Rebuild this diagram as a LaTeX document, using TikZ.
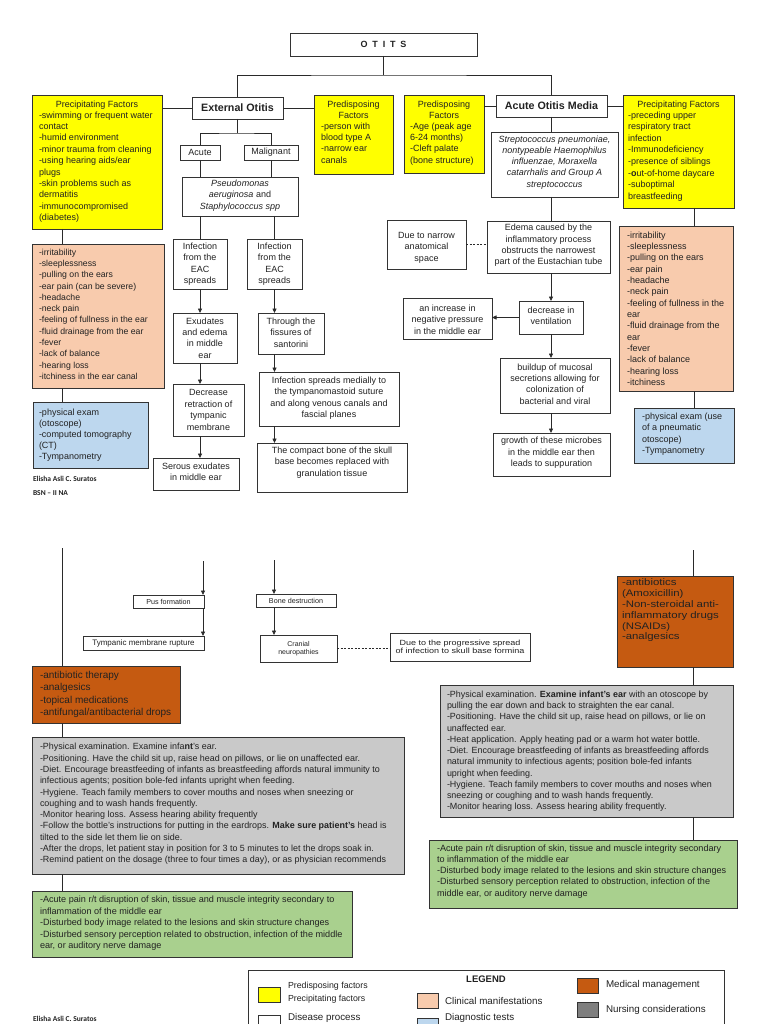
\documentclass[tikz,border=0pt]{standalone}
\usepackage{fontspec}
\setmainfont{Liberation Sans}
\newfontfamily\widefont[FakeStretch=1.2]{Liberation Sans}
\newfontfamily\namefont{Carlito}
\usetikzlibrary{arrows.meta}
\definecolor{yel}{HTML}{FFFF00}
\definecolor{sal}{HTML}{F8CBAD}
\definecolor{blu}{HTML}{BDD7EE}
\definecolor{org}{HTML}{C55A11}
\definecolor{gry}{HTML}{C9C9C9}
\definecolor{grn}{HTML}{A9D08E}
\definecolor{gdark}{HTML}{7F7F7F}
\definecolor{edge}{HTML}{333333}
\definecolor{lnc}{HTML}{2A2A2A}
\definecolor{tx}{HTML}{222222}
\newcommand\mkbox[6]{%
  \pgfmathsetmacro\bxw{#4-#2}%
  \pgfmathsetmacro\bxh{#5-#3}%
  \node[#6, anchor=north west, minimum width=\bxw pt, minimum height=\bxh pt] (#1) at (#2,#3) {};%
}
\newcommand\ctxt[4]{\node[txt, align=center, #3] (#1t) at ([shift={(0,#2)}]#1.center) {#4};}
\newcommand\ltxt[5]{\node[txt, align=left, anchor=north west, #4] (#1t) at ([shift={(#2,#3)}]#1.north west) {#5};}
\newcommand\htxt[4]{\node[txt, align=center, anchor=north, #3] (#1h) at ([shift={(0,#2)}]#1.north) {#4};}
\begin{document}
\begin{tikzpicture}[x=1pt,y=-1pt,
  bx/.style={draw=edge, line width=0.8pt, inner sep=0pt, outer sep=0pt, rectangle},
  wb/.style={bx, fill=white}, yb/.style={bx, fill=yel}, sb/.style={bx, fill=sal},
  bb/.style={bx, fill=blu}, ob/.style={bx, fill=org}, gb/.style={bx, fill=gry},
  nb/.style={bx, fill=grn},
  txt/.style={inner sep=0pt, outer sep=0pt, text=tx},
  ln/.style={draw=lnc, line width=0.8pt},
  arr/.style={ln, -{Triangle[length=4.5pt,width=4pt]}},
  dsh/.style={ln, dash pattern=on 2pt off 1.5pt},
  fY/.style={font=\fontsize{9}{11.4}\selectfont},
  fYR/.style={font=\fontsize{9}{11.6}\selectfont},
  fSL/.style={font=\fontsize{8.7}{11.3}\selectfont},
  fSR/.style={font=\fontsize{9}{11.35}\selectfont},
  fBL/.style={font=\fontsize{9}{11}\selectfont},
  fBR/.style={font=\fontsize{9}{11.3}\selectfont},
  fF/.style={font=\fontsize{9}{11.4}\selectfont},
  fI/.style={font=\fontsize{9}{11.1}\selectfont\itshape},
  fH/.style={font=\fontsize{10.7}{12}\selectfont\bfseries},
  fG/.style={font=\fontsize{8.95}{11.27}\selectfont},
  fNL/.style={font=\fontsize{9.1}{11.5}\selectfont},
  fNR/.style={font=\fontsize{9.1}{11.1}\selectfont},
  fOL/.style={font=\fontsize{10}{12.4}\selectfont},
  fOR/.style={font=\widefont\fontsize{9.5}{10.8}\selectfont},
  fS/.style={font=\fontsize{7.2}{7.8}\selectfont},
  fL/.style={font=\fontsize{9.8}{12}\selectfont},
  fN/.style={font=\namefont\bfseries\fontsize{7.5}{14}\selectfont},
]
\useasboundingbox (0,0) rectangle (768,1024);
\fill[white] (0,0) rectangle (768,1024);

% ---------- top ----------
\mkbox{otits}{290}{33}{477}{56}{wb}
\ctxt{otits}{0}{font=\fontsize{9}{11}\selectfont\bfseries}{O\hspace{4.8pt}T\hspace{4.8pt}I\hspace{4.8pt}T\hspace{4.8pt}S}

\mkbox{yl1}{32}{95}{162}{229}{yb}
\htxt{yl1}{5.5}{fY}{Precipitating Factors}
\ltxt{yl1}{7}{16.5}{fY}{-swimming or frequent water\\contact\\-humid environment\\-minor trauma from cleaning\\-using hearing aids/ear\\plugs\\-skin problems such as\\dermatitis\\-immunocompromised\\(diabetes)}

\mkbox{ext}{192}{97}{283}{119}{wb}
\ctxt{ext}{0}{fH}{External Otitis}

\mkbox{yp1}{314}{95}{393}{174}{yb}
\htxt{yp1}{5.5}{fY}{Predisposing\\Factors}
\ltxt{yp1}{7}{27.5}{fY}{-person with\\blood type A\\-narrow ear\\canals}

\mkbox{yp2}{404}{95}{484}{173}{yb}
\htxt{yp2}{5.5}{fY}{Predisposing\\Factors}
\ltxt{yp2}{6}{27.5}{fY}{-Age (peak age\\6-24 months)\\-Cleft palate\\(bone structure)}

\mkbox{aom}{496}{95}{607}{117}{wb}
\ctxt{aom}{0}{fH}{Acute Otitis Media}

\mkbox{yr}{623}{95}{734}{208}{yb}
\htxt{yr}{5.5}{fY}{Precipitating Factors}
\ltxt{yr}{5}{16.5}{fYR}{-preceding upper\\respiratory tract\\infection\\-Immunodeficiency\\-presence of siblings\\-\textbf{o}ut-of-home daycare\\-suboptimal\\breastfeeding}

% ---------- left column ----------
\mkbox{salL}{32}{244}{164}{388}{sb}
\ltxt{salL}{7}{4.8}{fSL}{-irritability\\-sleeplessness\\-pulling on the ears\\-ear pain (can be severe)\\-headache\\-neck pain\\-feeling of fullness in the ear\\-fluid drainage from the ear\\-fever\\-lack of balance\\-hearing loss\\-itchiness in the ear canal}

\mkbox{bluL}{33}{402}{148}{468}{bb}
\ltxt{bluL}{6}{7}{fBL}{-physical exam\\(otoscope)\\-computed tomography\\(CT)\\-Tympanometry}

\node[txt, fN, anchor=west] (nm1) at (33,479) {Elisha Asli C. Suratos};
\node[txt, fN, anchor=west] (nm2) at (33,493) {BSN – II NA};

% ---------- external otitis flow ----------
\mkbox{acute}{180}{145}{220}{160}{wb} \ctxt{acute}{0}{fF}{Acute}
\mkbox{malig}{244}{145}{298}{160}{wb} \ctxt{malig}{0}{fF}{Malignant}
\mkbox{pseudo}{182}{177}{298}{216}{wb}
\ctxt{pseudo}{-1}{fF}{\textit{Pseudomonas}\\\textit{aeruginosa} and\\\textit{Staphylococcus spp}}
\mkbox{inf1}{173}{239}{227}{289}{wb} \ctxt{inf1}{0}{fF}{Infection\\from the\\EAC\\spreads}
\mkbox{inf2}{247}{239}{302}{289}{wb} \ctxt{inf2}{0}{fF}{Infection\\from the\\EAC\\spreads}
\mkbox{exu}{173}{313}{237}{363}{wb} \ctxt{exu}{0}{fF}{Exudates\\and edema\\in middle\\ear}
\mkbox{dec}{173}{384}{244}{436}{wb} \ctxt{dec}{0}{fF}{Decrease\\retraction of\\tympanic\\membrane}
\mkbox{ser}{153}{458}{239}{490}{wb} \ctxt{ser}{-2}{fF}{Serous exudates\\in middle ear}
\mkbox{thr}{258}{313}{324}{354}{wb} \ctxt{thr}{-1}{fF}{Through the\\fissures of\\santorini}
\mkbox{isp}{259}{372}{399}{426}{wb} \ctxt{isp}{-1}{fF}{Infection spreads medially to\\the tympanomastoid suture\\and along venous canals and\\fascial planes}
\mkbox{cmp}{257}{443}{407}{492}{wb} \ctxt{cmp}{-5}{fF}{The compact bone of the skull\\base becomes replaced with\\granulation tissue}

% ---------- acute otitis media flow ----------
\mkbox{strep}{491}{132}{618}{197}{wb}
\ctxt{strep}{-2}{fI}{Streptococcus pneumoniae,\\nontypeable Haemophilus\\influenzae, Moraxella\\catarrhalis and Group A\\streptococcus}
\mkbox{edema}{487}{221}{610}{273}{wb}
\ctxt{edema}{-1.5}{fF}{Edema caused by the\\inflammatory process\\obstructs the narrowest\\part of the Eustachian tube}
\mkbox{dueN}{387}{220}{466}{269}{wb} \ctxt{dueN}{3}{fF}{Due to narrow\\anatomical\\space}
\mkbox{decv}{519}{301}{583}{334}{wb} \ctxt{decv}{-2}{fF}{decrease in\\ventilation}
\mkbox{incr}{403}{298}{492}{339}{wb} \ctxt{incr}{1}{fF}{an increase in\\negative pressure\\in the middle ear}
\mkbox{bup}{500}{358}{610}{413}{wb} \ctxt{bup}{-1.5}{fF}{buildup of mucosal\\secretions allowing for\\colonization of\\bacterial and viral}
\mkbox{grow}{493}{433}{610}{476}{wb} \ctxt{grow}{-1.7}{fF}{growth of these microbes\\in the middle ear then\\leads to suppuration}

% ---------- right column ----------
\mkbox{salR}{619}{226}{733}{391}{sb}
\ltxt{salR}{8}{5.5}{fSR}{-irritability\\-sleeplessness\\-pulling on the ears\\-ear pain\\-headache\\-neck pain\\-feeling of fullness in the\\ear\\-fluid drainage from the\\ear\\-fever\\-lack of balance\\-hearing loss\\-itchiness}
\mkbox{bluR}{634}{408}{734}{463}{bb}
\ltxt{bluR}{8}{5}{fBR}{-physical exam (use\\of a pneumatic\\otoscope)\\-Tympanometry}

% ---------- lower middle ----------
\mkbox{pus}{133}{595}{204}{608}{wb} \ctxt{pus}{0}{fS}{Pus formation}
\mkbox{bone}{256}{594}{336}{607}{wb} \ctxt{bone}{0}{fS}{Bone destruction}
\mkbox{tymp}{83}{636}{204}{650}{wb} \ctxt{tymp}{0}{font=\fontsize{8}{8}\selectfont}{Tympanic membrane rupture}
\mkbox{cran}{260}{635}{337}{662}{wb} \ctxt{cran}{0}{font=\fontsize{7}{7.8}\selectfont}{Cranial\\neuropathies}
\mkbox{prog}{390}{633}{530}{661}{wb} \ctxt{prog}{0}{font=\widefont\fontsize{7.5}{7.8}\selectfont}{Due to the progressive spread\\of infection to skull base formina}

\mkbox{orgR}{617}{576}{733}{667}{ob}
\ltxt{orgR}{5}{3}{fOR}{-antibiotics\\(Amoxicillin)\\-Non-steroidal anti-\\inflammatory drugs\\(NSAIDs)\\-analgesics}

\mkbox{orgL}{32}{666}{180}{723}{ob}
\ltxt{orgL}{8}{5}{fOL}{-antibiotic therapy\\-analgesics\\-topical medications\\-antifungal/antibacterial drops}

\mkbox{gryL}{32}{737}{404}{874}{gb}
\ltxt{gryL}{8}{6.5}{fG}{-Physical examination. Examine infa\textbf{nt}'s ear.\\-Positioning. Have the child sit up, raise head on pillows, or lie on unaffected ear.\\-Diet. Encourage breastfeeding of infants as breastfeeding affords natural immunity to\\infectious agents; position bole-fed infants upright when feeding.\\-Hygiene. Teach family members to cover mouths and noses when sneezing or\\coughing and to wash hands frequently.\\-Monitor hearing loss. Assess hearing ability frequently\\-Follow the bottle's instructions for putting in the eardrops. \textbf{Make sure patient's} head is\\tilted to the side let them lie on side.\\-After the drops, let patient stay in position for 3 to 5 minutes to let the drops soak in.\\-Remind patient on the dosage (three to four times a day), or as physician recommends}

\mkbox{grnL}{32}{891}{352}{957}{nb}
\ltxt{grnL}{8}{5}{fNL}{-Acute pain r/t disruption of skin, tissue and muscle integrity secondary to\\inflammation of the middle ear\\-Disturbed body image related to the lesions and skin structure changes\\-Disturbed sensory perception related to obstruction, infection of the middle\\ear, or auditory nerve damage}

\mkbox{gryR}{440}{685}{733}{817}{gb}
\ltxt{gryR}{7}{5.8}{fG}{-Physical examination. \textbf{Examine infant's ear} with an otoscope by\\pulling the ear down and back to straighten the ear canal.\\-Positioning. Have the child sit up, raise head on pillows, or lie on\\unaffected ear.\\-Heat application. Apply heating pad or a warm hot water bottle.\\-Diet. Encourage breastfeeding of infants as breastfeeding affords\\natural immunity to infectious agents; position bole-fed infants\\upright when feeding.\\-Hygiene. Teach family members to cover mouths and noses when\\sneezing or coughing and to wash hands frequently.\\-Monitor hearing loss. Assess hearing ability frequently.}

\mkbox{grnR}{429}{840}{737}{908}{nb}
\ltxt{grnR}{8}{5}{fNR}{-Acute pain r/t disruption of skin, tissue and muscle integrity secondary\\to inflammation of the middle ear\\-Disturbed body image related to the lesions and skin structure changes\\-Disturbed sensory perception related to obstruction, infection of the\\middle ear, or auditory nerve damage}

% ---------- legend ----------
\mkbox{leg}{248}{970}{724}{1040}{wb}
\node[txt, font=\fontsize{9.5}{10}\selectfont\bfseries] (legt) at (486,979.5) {LEGEND};
\mkbox{swY}{258}{987}{280}{1002}{yb}
\node[txt, anchor=west, align=left, font=\fontsize{8.8}{12.7}\selectfont] (swYt) at (288,993) {Predisposing factors\\Precipitating factors};
\mkbox{swW}{258}{1015}{280}{1035}{wb}
\node[txt, anchor=west, fL] (swWt) at (288,1017.5) {Disease process};
\mkbox{swS}{417}{993}{438}{1008}{sb}
\node[txt, anchor=west, fL] (swSt) at (445,1001) {Clinical manifestations};
\mkbox{swB}{417}{1018}{438}{1035}{bb}
\node[txt, anchor=west, fL] (swBt) at (445,1018) {Diagnostic tests};
\mkbox{swO}{577}{978}{598}{993}{ob}
\node[txt, anchor=west, fL] (swOt) at (606,985) {Medical management};
\mkbox{swG}{577}{1002}{598}{1017}{bx, fill=gdark}
\node[txt, anchor=west, fL] (swGt) at (606,1009.5) {Nursing considerations};

\node[txt, fN, anchor=base west] (nm3) at (33,1021.5) {Elisha Asli C. Suratos};

% ---------- connectors ----------
\coordinate (j1) at (383.5,75);
\draw[ln] (otits.south) -- (j1);
\draw[ln] (ext.north) |- (j1) -| (aom.north);
\draw[ln] (ext.west) -- (ext.west -| yl1.east);
\draw[ln] (ext.east) -- (ext.east -| yp1.west);
\draw[ln] (aom.west) -- (aom.west -| yp2.east);
\draw[ln] (aom.east) -- (aom.east -| yr.west);

\coordinate (j2) at (237.5,133);
\draw[ln] (ext.south) -- (j2);
\draw[ln] (acute.north) |- (j2) -| (malig.north);
\draw[ln] (acute.south) -- (acute.south |- pseudo.north);
\draw[ln] (malig.south) -- (malig.south |- pseudo.north);
\draw[ln] (inf1.north |- pseudo.south) -- (inf1.north);
\draw[ln] (inf2.north |- pseudo.south) -- (inf2.north);
\draw[arr] (inf1.south) -- (inf1.south |- exu.north);
\draw[arr] (inf1.south |- exu.south) -- (inf1.south |- dec.north);
\draw[arr] (inf1.south |- dec.south) -- (inf1.south |- ser.north);
\draw[arr] (inf2.south) -- (inf2.south |- thr.north);
\draw[arr] (inf2.south |- thr.south) -- (inf2.south |- isp.north);
\draw[arr] (inf2.south |- isp.south) -- (inf2.south |- cmp.north);

\draw[ln] (aom.south) -- (aom.south |- strep.north);
\draw[ln] (aom.south |- strep.south) -- (aom.south |- edema.north);
\draw[dsh] (dueN.east) -- (dueN.east -| edema.west);
\draw[arr] (decv.north |- edema.south) -- (decv.north);
\draw[arr] (decv.west) -- (decv.west -| incr.east);
\draw[arr] (decv.south) -- (decv.south |- bup.north);
\draw[arr] (decv.south |- bup.south) -- (decv.south |- grow.north);

\coordinate (lcx) at (62,0);
\draw[ln] (yl1.south -| lcx) -- (salL.north -| lcx);
\draw[ln] (salL.south -| lcx) -- (bluL.north -| lcx);
\coordinate (rcx) at (694,0);
\draw[ln] (yr.south -| rcx) -- (salR.north -| rcx);
\draw[ln] (salR.south -| rcx) -- (bluR.north -| rcx);

\coordinate (lf) at (62,548);
\draw[ln] (lf) -- (orgL.north -| lf);
\draw[ln] (orgL.south -| lf) -- (gryL.north -| lf);
\draw[ln] (gryL.south -| lf) -- (grnL.north -| lf);
\coordinate (rf) at (693,550);
\draw[ln] (rf) -- (orgR.north -| rf);
\draw[ln] (orgR.south -| rf) -- (gryR.north -| rf);
\draw[ln] (gryR.south -| rf) -- (grnR.north -| rf);
\coordinate (pf) at (203,561);
\draw[arr] (pf) -- (pus.north -| pf);
\draw[arr] (pus.south -| pf) -- (tymp.north -| pf);
\coordinate (bf) at (274,560);
\draw[arr] (bf) -- (bone.north -| bf);
\draw[arr] (bone.south -| bf) -- (cran.north -| bf);
\draw[dsh] (cran.east) -- (cran.east -| prog.west);
\end{tikzpicture}
\end{document}
